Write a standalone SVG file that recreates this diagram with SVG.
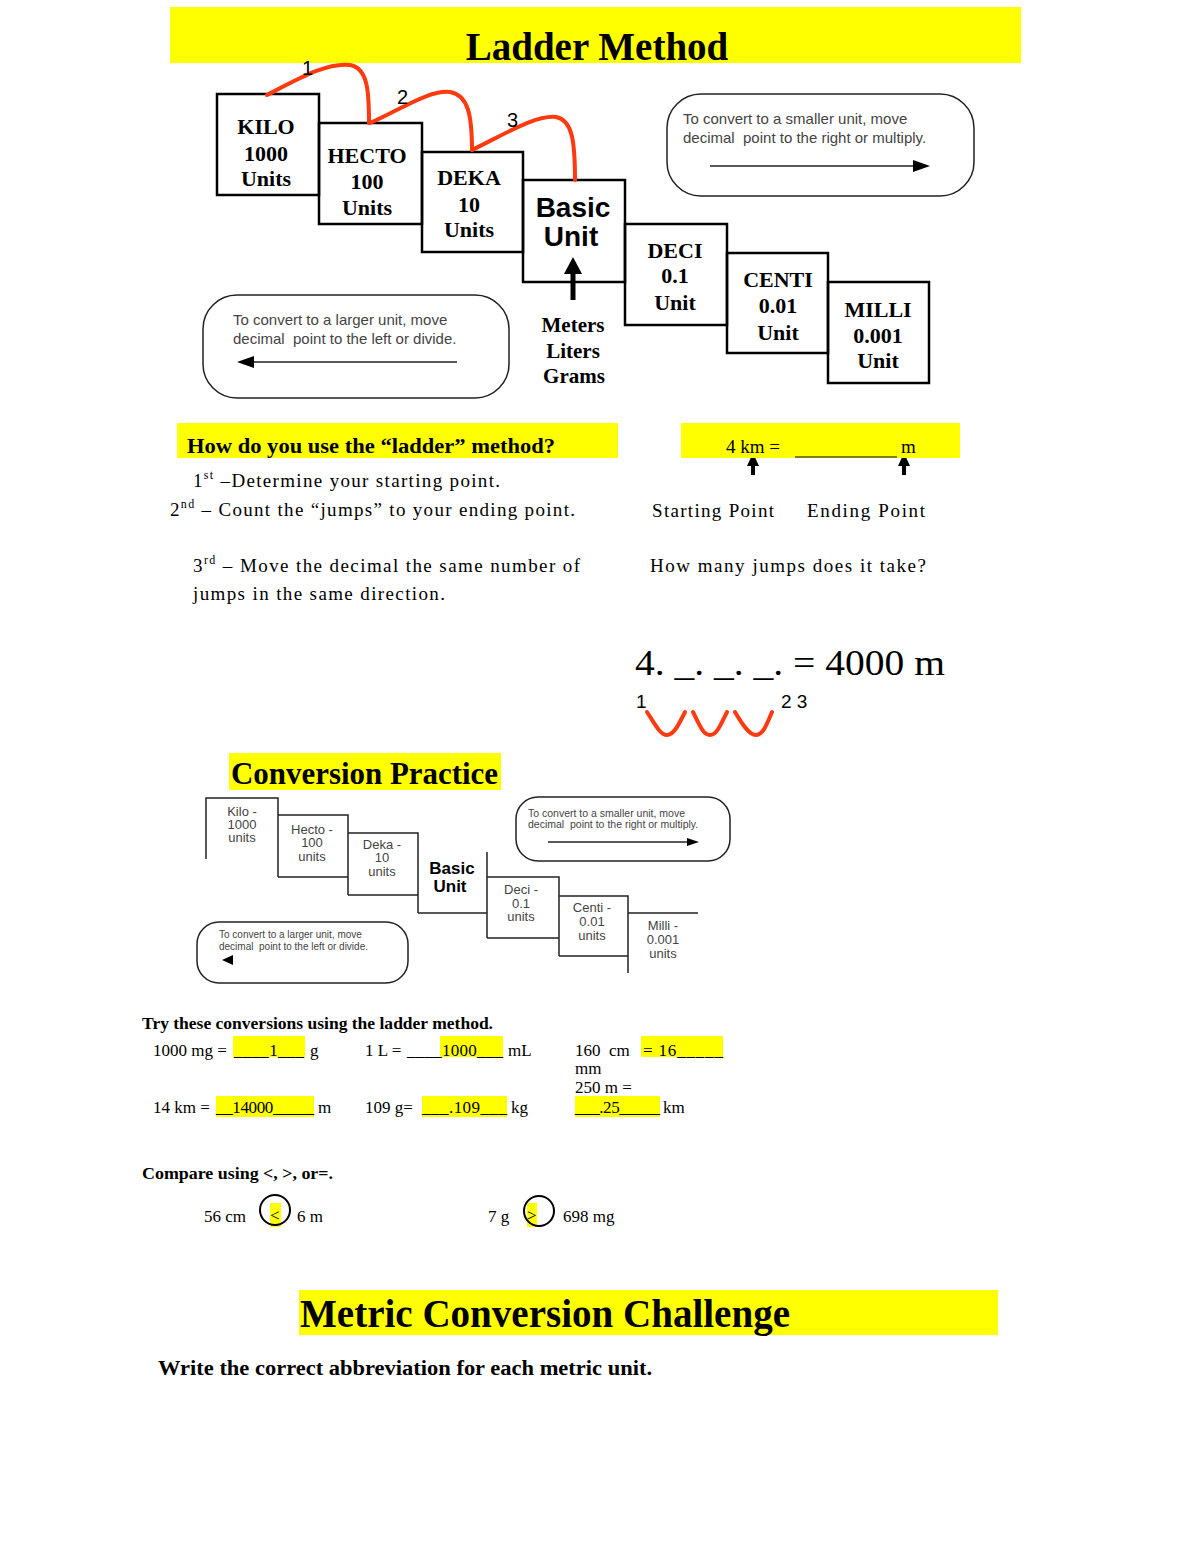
<svg xmlns="http://www.w3.org/2000/svg" width="1200" height="1553" viewBox="0 0 1200 1553">
<defs>
<style>
.serif{font-family:"Liberation Serif","Times New Roman",serif;fill:#000}
.sans{font-family:"Liberation Sans",Arial,sans-serif;fill:#000}
.bx{fill:none;stroke:#000;stroke-width:2.5}
.big{font-family:"Liberation Serif","Times New Roman",serif;font-weight:bold;font-size:22px;text-anchor:middle}
.sm{font-family:"Liberation Sans",Arial,sans-serif;font-size:13px;fill:#444;text-anchor:middle}
.ln{fill:none;stroke:#222;stroke-width:1.5}
.jump{fill:none;stroke:#ff3a10;stroke-width:4;stroke-linecap:round;stroke-linejoin:round}
.yel{fill:#ffff00}
.note{font-family:"Liberation Sans",Arial,sans-serif;fill:#444}
.rbox{fill:none;stroke:#222;stroke-width:1.5}
</style>
</defs>
<rect width="1200" height="1553" fill="#fff"/>

<g id="title">
<rect class="yel" x="170" y="7" width="851" height="56"/>
<text class="serif" x="597" y="60" font-size="39" font-weight="bold" text-anchor="middle">Ladder Method</text>
</g>

<g id="kilo"><rect class="bx" x="217" y="94" width="102" height="101"/>
<text class="big" x="266" y="134">KILO</text><text class="big" x="266" y="161">1000</text><text class="big" x="266" y="186">Units</text></g>
<g id="hecto"><rect class="bx" x="319" y="123" width="103" height="101"/>
<text class="big" x="367" y="163">HECTO</text><text class="big" x="367" y="189">100</text><text class="big" x="367" y="215">Units</text></g>
<g id="deka"><rect class="bx" x="422" y="152" width="101" height="100"/>
<text class="big" x="469" y="185">DEKA</text><text class="big" x="469" y="212">10</text><text class="big" x="469" y="237">Units</text></g>
<g id="basic"><rect class="bx" x="523" y="180" width="102" height="102"/>
<text class="sans" x="573" y="217" font-size="28" font-weight="bold" text-anchor="middle">Basic</text>
<text class="sans" x="571" y="246" font-size="28" font-weight="bold" text-anchor="middle">Unit</text></g>
<g id="deci"><rect class="bx" x="625" y="224" width="102" height="101"/>
<text class="big" x="675" y="258">DECI</text><text class="big" x="675" y="283">0.1</text><text class="big" x="675" y="310">Unit</text></g>
<g id="centi"><rect class="bx" x="727" y="253" width="101" height="100"/>
<text class="big" x="778" y="287">CENTI</text><text class="big" x="778" y="313">0.01</text><text class="big" x="778" y="340">Unit</text></g>
<g id="milli"><rect class="bx" x="828" y="282" width="101" height="101"/>
<text class="big" x="878" y="317">MILLI</text><text class="big" x="878" y="343">0.001</text><text class="big" x="878" y="368">Unit</text></g>
<g id="base-units">
<text class="serif" x="573" y="332" font-size="21" font-weight="bold" text-anchor="middle">Meters</text>
<text class="serif" x="573" y="358" font-size="21" font-weight="bold" text-anchor="middle">Liters</text>
<text class="serif" x="574" y="383" font-size="21" font-weight="bold" text-anchor="middle">Grams</text>
</g>
<g id="note-smaller">
<rect class="rbox" x="667" y="94" width="307" height="102" rx="34"/>
<text class="note" x="683" y="124" font-size="15">To convert to a smaller unit, move</text>
<text class="note" x="683" y="143" font-size="15" xml:space="preserve">decimal  point to the right or multiply.</text>
</g>
<g id="note-larger">
<rect class="rbox" x="203" y="295" width="306" height="103" rx="34"/>
<text class="note" x="233" y="325" font-size="15">To convert to a larger unit, move</text>
<text class="note" x="233" y="344" font-size="15" xml:space="preserve">decimal  point to the left or divide.</text>
</g>

<g id="connectors">
<path class="jump" d="M267,95 C300,78 328,62 350,65 C368,68 369,92 369,123"/>
<path class="jump" d="M370,123 C400,110 428,90 450,92 C468,95 472,115 472,150"/>
<path class="jump" d="M472,150 C505,134 535,115 556,117 C572,120 575,140 575,180"/>
<line x1="573" y1="300" x2="573" y2="272" stroke="#000" stroke-width="5"/>
<polygon points="573,257 564,274 582,274" fill="#000"/>
<line x1="710" y1="166" x2="915" y2="166" stroke="#222" stroke-width="1.5"/>
<polygon points="930,166 913,160 913,172" fill="#000"/>
<line x1="252" y1="362" x2="457" y2="362" stroke="#222" stroke-width="1.5"/>
<polygon points="237,362 254,356 254,368" fill="#000"/>
<line x1="753" y1="475" x2="753" y2="465" stroke="#000" stroke-width="4"/>
<polygon points="753,453 747,466 759,466" fill="#000"/>
<line x1="904" y1="475" x2="904" y2="465" stroke="#000" stroke-width="4"/>
<polygon points="904,453 898,466 910,466" fill="#000"/>
<path class="jump" stroke-width="5" d="M647,712 C655,724 660,735 667,735 C674,735 679,724 685,712"/>
<path class="jump" stroke-width="5" d="M693,712 C699,724 703,735 710,735 C717,735 721,724 727,712"/>
<path class="jump" stroke-width="5" d="M735,712 C742,724 749,735 756,735 C763,735 767,724 772,712"/>
<line x1="548" y1="842" x2="688" y2="842" stroke="#222" stroke-width="1.3"/>
<polygon points="699,842 687,838 687,846" fill="#000"/>
<polygon points="222,960 233,955 233,965" fill="#000"/>
</g>
<g id="jump-labels">
<text class="sans" x="302" y="75" font-size="20">1</text>
<text class="sans" x="397" y="104" font-size="20">2</text>
<text class="sans" x="507" y="127" font-size="20">3</text>
</g>

<g id="how">
<rect class="yel" x="177" y="423" width="441" height="35"/>
<text class="serif" x="187" y="453" font-size="20" font-weight="bold" textLength="368" lengthAdjust="spacingAndGlyphs">How do you use the “ladder” method?</text>
<text class="serif" x="193" y="487" font-size="19" textLength="307">1<tspan font-size="12" dy="-8">st</tspan><tspan dy="8"> –Determine your starting point.</tspan></text>
<text class="serif" x="170" y="516" font-size="19" textLength="405">2<tspan font-size="12" dy="-8">nd</tspan><tspan dy="8"> – Count the “jumps” to your ending point.</tspan></text>
<text class="serif" x="193" y="572" font-size="19" textLength="387">3<tspan font-size="12" dy="-8">rd</tspan><tspan dy="8"> – Move the decimal the same number of</tspan></text>
<text class="serif" x="193" y="600" font-size="19" textLength="252">jumps in the same direction.</text>
</g>
<g id="example">
<rect class="yel" x="681" y="423" width="279" height="35"/>
<text class="serif" x="726" y="453" font-size="19">4 km = </text>
<line x1="795" y1="457" x2="897" y2="457" stroke="#000" stroke-width="1.2"/>
<text class="serif" x="901" y="453" font-size="19">m</text>
<text class="serif" x="652" y="517" font-size="19" textLength="122">Starting Point</text>
<text class="serif" x="807" y="517" font-size="19" textLength="118">Ending Point</text>
<text class="serif" x="650" y="572" font-size="19" textLength="276">How many jumps does it take?</text>
<text class="serif" x="635" y="675" font-size="36" textLength="310" lengthAdjust="spacingAndGlyphs">4. _. _. _. = 4000 m</text>
<text class="sans" x="636" y="708" font-size="19">1</text>
<text class="sans" x="781" y="708" font-size="19">2 3</text>
</g>

<g id="practice-title">
<rect class="yel" x="229" y="753" width="272" height="37"/>
<text class="serif" x="231" y="784" font-size="32" font-weight="bold" textLength="267" lengthAdjust="spacingAndGlyphs">Conversion Practice</text>
</g>
<g id="small-ladder">
<path class="ln" d="M206,859 V798 H278 V877 M278,815 H348 V895 M278,877 H348 M348,833 H418 V913 M348,895 H418 M418,913 H487 M487,852 V938 M487,877 H559 V956 M487,938 H559 M559,896 H628 V973 M559,956 H628 M628,913 H698"/>
<text class="sm" x="242" y="816">Kilo -</text><text class="sm" x="242" y="829">1000</text><text class="sm" x="242" y="842">units</text>
<text class="sm" x="312" y="834">Hecto -</text><text class="sm" x="312" y="847">100</text><text class="sm" x="312" y="861">units</text>
<text class="sm" x="382" y="849">Deka -</text><text class="sm" x="382" y="862">10</text><text class="sm" x="382" y="876">units</text>
<text class="sans" x="452" y="874" font-size="17" font-weight="bold" text-anchor="middle">Basic</text>
<text class="sans" x="450" y="892" font-size="17" font-weight="bold" text-anchor="middle">Unit</text>
<text class="sm" x="521" y="894">Deci -</text><text class="sm" x="521" y="908">0.1</text><text class="sm" x="521" y="921">units</text>
<text class="sm" x="592" y="912">Centi -</text><text class="sm" x="592" y="926">0.01</text><text class="sm" x="592" y="940">units</text>
<text class="sm" x="663" y="930">Milli -</text><text class="sm" x="663" y="944">0.001</text><text class="sm" x="663" y="958">units</text>
</g>
<g id="small-note-smaller">
<rect class="rbox" x="516" y="797" width="214" height="64" rx="22"/>
<text class="note" x="528" y="817" font-size="10.5">To convert to a smaller unit, move</text>
<text class="note" x="528" y="828" font-size="10.5" xml:space="preserve">decimal  point to the right or multiply.</text>
</g>
<g id="small-note-larger">
<rect class="rbox" x="197" y="922" width="211" height="61" rx="22"/>
<text class="note" x="219" y="938" font-size="10">To convert to a larger unit, move</text>
<text class="note" x="219" y="950" font-size="10" xml:space="preserve">decimal  point to the left or divide.</text>
</g>

<g id="conversions">
<text class="serif" x="142" y="1029" font-size="17" font-weight="bold" textLength="351" lengthAdjust="spacingAndGlyphs">Try these conversions using the ladder method.</text>
<text class="serif" x="153" y="1056" font-size="17">1000 mg =</text>
<rect class="yel" x="233" y="1036" width="72" height="21"/>
<text class="serif" x="234" y="1056" font-size="17" textLength="70">____1___</text>
<text class="serif" x="310" y="1056" font-size="17">g</text>
<text class="serif" x="365" y="1056" font-size="17">1 L =</text>
<rect class="yel" x="440" y="1036" width="63" height="21"/>
<text class="serif" x="407" y="1056" font-size="17" textLength="96">____1000___</text>
<text class="serif" x="508" y="1056" font-size="17">mL</text>
<text class="serif" x="575" y="1056" font-size="17" xml:space="preserve">160  cm</text>
<rect class="yel" x="641" y="1036" width="82" height="21"/>
<text class="serif" x="643" y="1056" font-size="17" textLength="80">= 16_____</text>
<text class="serif" x="575" y="1074" font-size="17">mm</text>
<text class="serif" x="575" y="1093" font-size="17">250 m =</text>
<text class="serif" x="153" y="1113" font-size="17">14 km =</text>
<rect class="yel" x="216" y="1096" width="98" height="21"/>
<text class="serif" x="216" y="1113" font-size="17" textLength="98">__14000_____</text>
<text class="serif" x="318" y="1113" font-size="17">m</text>
<text class="serif" x="365" y="1113" font-size="17">109 g=</text>
<rect class="yel" x="422" y="1096" width="85" height="21"/>
<text class="serif" x="422" y="1113" font-size="17" textLength="85">___.109___</text>
<text class="serif" x="511" y="1113" font-size="17">kg</text>
<rect class="yel" x="575" y="1096" width="85" height="21"/>
<text class="serif" x="575" y="1113" font-size="17" textLength="85">___.25_____</text>
<text class="serif" x="663" y="1113" font-size="17">km</text>
</g>

<g id="compare">
<text class="serif" x="142" y="1179" font-size="17" font-weight="bold" textLength="191" lengthAdjust="spacingAndGlyphs">Compare using &lt;, &gt;, or=.</text>
<text class="serif" x="204" y="1222" font-size="17">56 cm</text>
<rect class="yel" x="270" y="1203" width="11" height="24"/>
<text class="serif" x="270" y="1221" font-size="17">&lt;</text>
<circle cx="275" cy="1210" r="15" fill="none" stroke="#000" stroke-width="2"/>
<text class="serif" x="297" y="1222" font-size="17">6 m</text>
<text class="serif" x="488" y="1222" font-size="17">7 g</text>
<rect class="yel" x="527" y="1203" width="10" height="24"/>
<text class="serif" x="527" y="1221" font-size="17">&gt;</text>
<circle cx="539" cy="1211" r="15" fill="none" stroke="#000" stroke-width="2"/>
<text class="serif" x="563" y="1222" font-size="17">698 mg</text>
</g>

<g id="challenge">
<rect class="yel" x="299" y="1290" width="699" height="45"/>
<text class="serif" x="300" y="1327" font-size="40" font-weight="bold" textLength="490" lengthAdjust="spacingAndGlyphs">Metric Conversion Challenge</text>
<text class="serif" x="158" y="1375" font-size="20" font-weight="bold" textLength="494" lengthAdjust="spacingAndGlyphs">Write the correct abbreviation for each metric unit.</text>
</g>
</svg>
